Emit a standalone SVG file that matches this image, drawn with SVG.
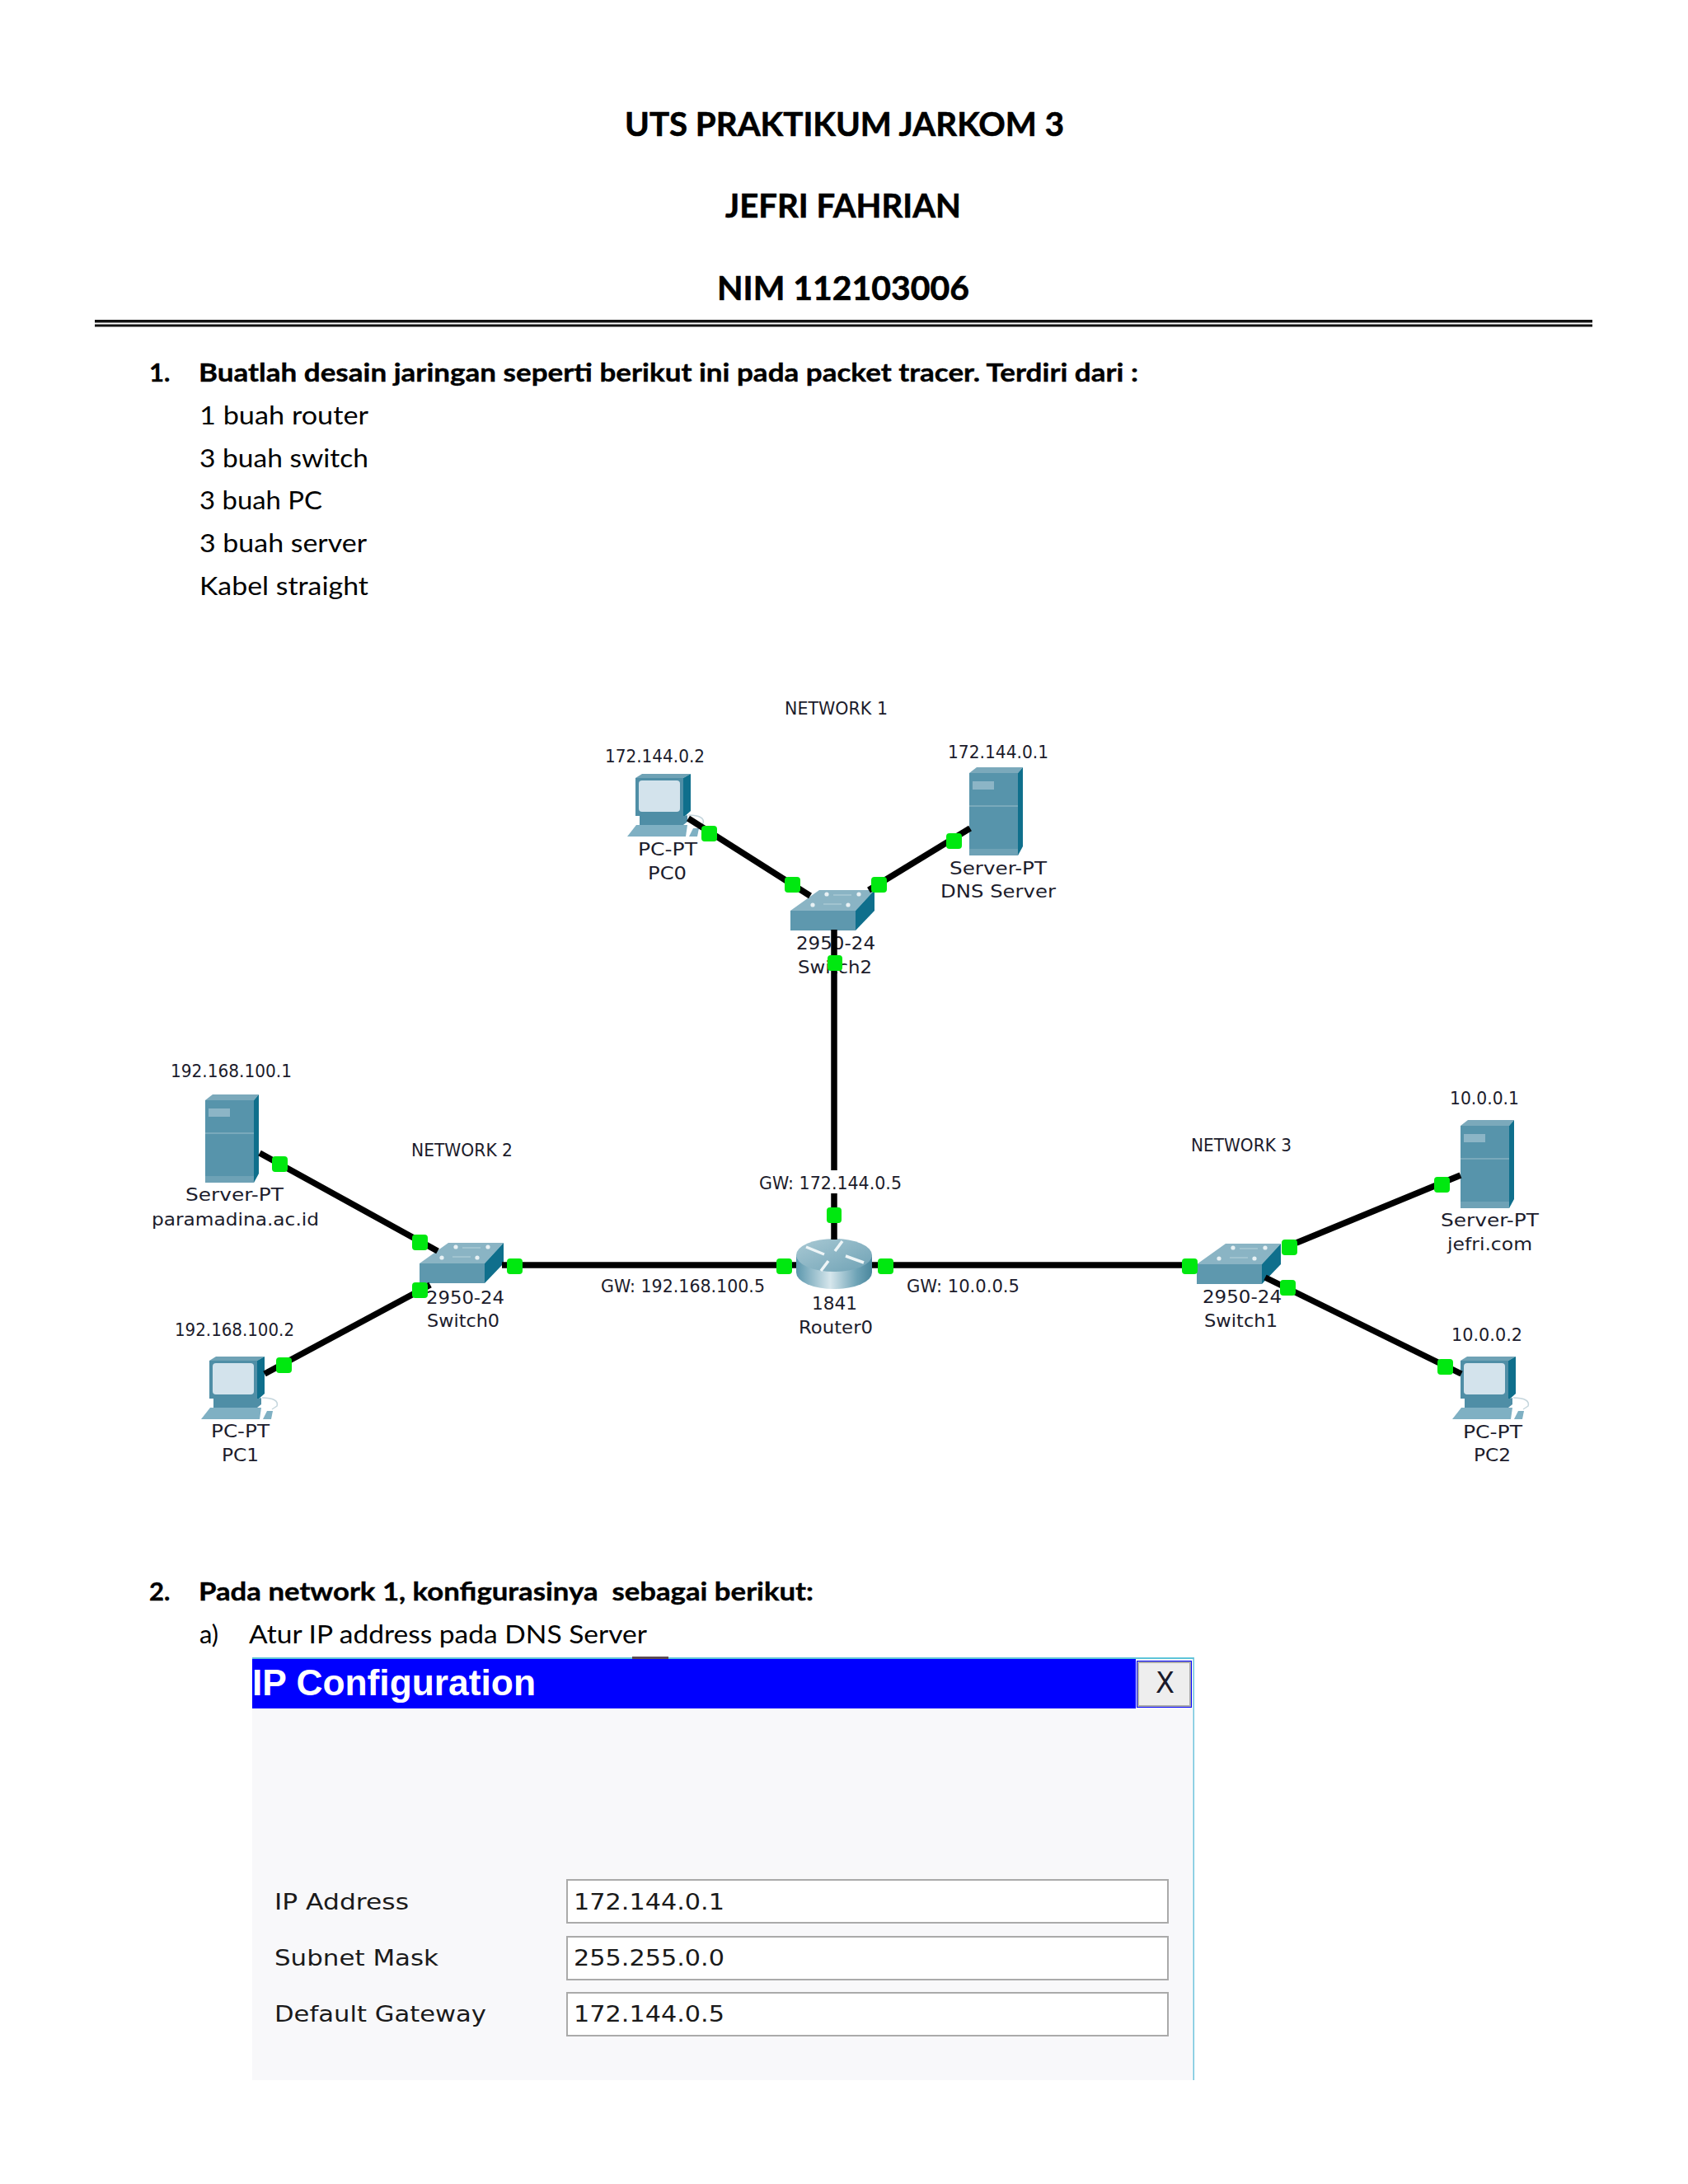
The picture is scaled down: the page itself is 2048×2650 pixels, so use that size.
<svg xmlns="http://www.w3.org/2000/svg" xmlns:xlink="http://www.w3.org/1999/xlink" width="2048" height="2650" viewBox="0 0 2048 2650">
<style>
text{white-space:pre}
.h{font-family:Lato,"Liberation Sans",sans-serif;font-weight:700;font-size:40px;fill:#000;stroke:#000;stroke-width:.6px}
.b{font-family:Lato,"Liberation Sans",sans-serif;font-size:31px;fill:#000}
.bb{font-family:Lato,"Liberation Sans",sans-serif;font-weight:700;font-size:31px;fill:#000;stroke:#000;stroke-width:.4px}
.l{font-family:"DejaVu Sans","Liberation Sans",sans-serif;font-size:22px;fill:#1c1c2c}
.f{font-family:"DejaVu Sans","Liberation Sans",sans-serif;font-size:27px;fill:#1a1a1a}
.t{font-family:"Liberation Sans",sans-serif;font-weight:700;font-size:44px;fill:#fff}
.link{stroke:#000;stroke-width:7.5;fill:none}
.port{fill:#00e810;stroke:#00e810;stroke-width:2}
.field{fill:#fff;stroke:#aaa;stroke-width:2}
</style>
<defs>
<linearGradient id="rb" x1="0" x2="1" y1="0" y2="0"><stop offset="0" stop-color="#5b97ad"/><stop offset=".45" stop-color="#d6e6ec"/><stop offset=".8" stop-color="#6ea3b6"/><stop offset="1" stop-color="#4a879d"/></linearGradient>
<linearGradient id="rt" x1="0" x2="1" y1="0" y2="1"><stop offset="0" stop-color="#a9c9d4"/><stop offset="1" stop-color="#6fa2b5"/></linearGradient>
<g id="server">
<polygon points="0,7 9,0 65,0 59,7" fill="#7ba9bb"/>
<polygon points="59,7 65,0 65,96 59,107" fill="#0f6f8c"/>
<rect x="0" y="7" width="59" height="100" fill="#5794ab"/>
<rect x="4" y="17" width="26" height="10" fill="#8cb5c6"/>
<rect x="0" y="46" width="59" height="2" fill="#79a9bb"/>
<rect x="0" y="99" width="59" height="8" fill="#6ea2b6"/>
</g>
<g id="pc">
<polygon points="0,5 8,0 67,0 58,5" fill="#6fa2b5"/>
<polygon points="58,5 67,0 67,45 58,53" fill="#0f6f8c"/>
<rect x="0" y="5" width="58" height="46" fill="#4f8ea6"/>
<rect x="4" y="8" width="50" height="38" rx="4" fill="#d3e3ec"/>
<polygon points="5,51 60,51 63,50 63,58 58,62 5,62" fill="#4f8ea6"/>
<polygon points="-10,76 1,62 63,62 61,76" fill="#7fb0c3"/>
<path d="M64,50 C78,50 84,54 82,60 L76,64" fill="none" stroke="#c5d6dd" stroke-width="1.5"/>
<polygon points="65,76 70,66 77,66 75,76" fill="#7fb0c3"/>
</g>
<g id="switch">
<polygon points="0,0 79,0 102,-25 35,-25" fill="#8ab4c4"/>
<rect x="0" y="0" width="79" height="24" fill="#5e98ae"/>
<polygon points="79,0 102,-25 102,0 79,24" fill="#0f6f8c"/>
<g fill="#e8f1f4"><circle cx="27" cy="-7" r="2.6"/><circle cx="70" cy="-7" r="2.6"/><circle cx="44" cy="-20" r="2.6"/><circle cx="83" cy="-20" r="2.6"/></g>
<path d="M40,-8 L62,-8 M52,-19 L74,-19" stroke="#a9c9d4" stroke-width="1.5"/>
</g>
</defs>
<rect width="2048" height="2650" fill="#fff"/>

<g id="header">
<text class="h" x="758" y="165" textLength="533" lengthAdjust="spacingAndGlyphs">UTS PRAKTIKUM JARKOM 3</text>
<text class="h" x="880" y="264" textLength="286" lengthAdjust="spacingAndGlyphs">JEFRI FAHRIAN</text>
<text class="h" x="870" y="364" textLength="306" lengthAdjust="spacingAndGlyphs">NIM 112103006</text>
<rect x="115" y="388" width="1817" height="3.5" fill="#111"/>
<rect x="115" y="393.5" width="1817" height="3" fill="#111"/>
</g>

<g id="question1">
<text class="bb" x="181" y="463">1.</text>
<text class="bb" x="241" y="463" textLength="1140" lengthAdjust="spacingAndGlyphs">Buatlah desain jaringan seperti berikut ini pada packet tracer. Terdiri dari :</text>
<text class="b" x="242" y="515" textLength="205" lengthAdjust="spacingAndGlyphs">1 buah router</text>
<text class="b" x="242" y="567" textLength="205" lengthAdjust="spacingAndGlyphs">3 buah switch</text>
<text class="b" x="242" y="618" textLength="149" lengthAdjust="spacingAndGlyphs">3 buah PC</text>
<text class="b" x="242" y="670" textLength="203" lengthAdjust="spacingAndGlyphs">3 buah server</text>
<text class="b" x="242" y="722" textLength="205" lengthAdjust="spacingAndGlyphs">Kabel straight</text>
</g>

<g id="PC0"><use href="#pc" x="771" y="939"/>
<text class="l" x="774" y="1038" textLength="72" lengthAdjust="spacingAndGlyphs">PC-PT</text>
<text class="l" x="786" y="1067" textLength="47" lengthAdjust="spacingAndGlyphs">PC0</text>
<text class="l" x="734" y="925" textLength="121" lengthAdjust="spacingAndGlyphs">172.144.0.2</text></g>
<g id="DNS-Server"><use href="#server" x="1176" y="931"/>
<text class="l" x="1152" y="1061" textLength="118" lengthAdjust="spacingAndGlyphs">Server-PT</text>
<text class="l" x="1141" y="1089" textLength="140" lengthAdjust="spacingAndGlyphs">DNS Server</text>
<text class="l" x="1150" y="920" textLength="122" lengthAdjust="spacingAndGlyphs">172.144.0.1</text></g>
<g id="Switch2"><use href="#switch" x="959" y="1105"/>
<text class="l" x="966" y="1152" textLength="96" lengthAdjust="spacingAndGlyphs">2950-24</text>
<text class="l" x="968" y="1181" textLength="90" lengthAdjust="spacingAndGlyphs">Switch2</text></g>
<g id="paramadina"><use href="#server" x="249" y="1328"/>
<text class="l" x="225" y="1457" textLength="119" lengthAdjust="spacingAndGlyphs">Server-PT</text>
<text class="l" x="184" y="1487" textLength="203" lengthAdjust="spacingAndGlyphs">paramadina.ac.id</text>
<text class="l" x="207" y="1307" textLength="147" lengthAdjust="spacingAndGlyphs">192.168.100.1</text></g>
<g id="PC1"><use href="#pc" x="254" y="1646"/>
<text class="l" x="256" y="1744" textLength="71" lengthAdjust="spacingAndGlyphs">PC-PT</text>
<text class="l" x="269" y="1773" textLength="45" lengthAdjust="spacingAndGlyphs">PC1</text>
<text class="l" x="212" y="1621" textLength="145" lengthAdjust="spacingAndGlyphs">192.168.100.2</text></g>
<g id="Switch0"><use href="#switch" x="509" y="1533"/>
<text class="l" x="517" y="1582" textLength="95" lengthAdjust="spacingAndGlyphs">2950-24</text>
<text class="l" x="518" y="1610" textLength="88" lengthAdjust="spacingAndGlyphs">Switch0</text></g>
<g id="Router0">
<rect x="966" y="1523" width="92" height="21" fill="url(#rb)"/>
<ellipse cx="1012" cy="1544" rx="46" ry="20" fill="url(#rb)"/>
<ellipse cx="1012" cy="1523" rx="46" ry="20" fill="url(#rt)"/>
<path d="M978,1513 L1000,1522 M1022,1506 L1013,1518 M1026,1524 L1048,1532 M1005,1530 L996,1542" stroke="#eef5f7" stroke-width="3.5" fill="none"/>
<text class="l" x="985" y="1589" textLength="55" lengthAdjust="spacingAndGlyphs">1841</text>
<text class="l" x="969" y="1618" textLength="90" lengthAdjust="spacingAndGlyphs">Router0</text></g>
<g id="Switch1"><use href="#switch" x="1452" y="1534"/>
<text class="l" x="1459" y="1581" textLength="96" lengthAdjust="spacingAndGlyphs">2950-24</text>
<text class="l" x="1461" y="1610" textLength="89" lengthAdjust="spacingAndGlyphs">Switch1</text></g>
<g id="jefri-com"><use href="#server" x="1772" y="1359"/>
<text class="l" x="1748" y="1488" textLength="119" lengthAdjust="spacingAndGlyphs">Server-PT</text>
<text class="l" x="1756" y="1517" textLength="103" lengthAdjust="spacingAndGlyphs">jefri.com</text>
<text class="l" x="1759" y="1340" textLength="84" lengthAdjust="spacingAndGlyphs">10.0.0.1</text></g>
<g id="PC2"><use href="#pc" x="1772" y="1646"/>
<text class="l" x="1775" y="1745" textLength="72" lengthAdjust="spacingAndGlyphs">PC-PT</text>
<text class="l" x="1788" y="1773" textLength="45" lengthAdjust="spacingAndGlyphs">PC2</text>
<text class="l" x="1761" y="1627" textLength="86" lengthAdjust="spacingAndGlyphs">10.0.0.2</text></g>

<g id="connectors">
<path class="link" d="M835,993 L983,1087"/>
<path class="link" d="M1177,1005 L1054,1080"/>
<path class="link" d="M1012,1128 V1420 M1012,1448 V1504"/>
<path class="link" d="M315,1399 L531,1518"/>
<path class="link" d="M522,1559 L321,1667"/>
<path class="link" d="M609,1535 H966 M1058,1535 H1452"/>
<path class="link" d="M1573,1508 L1772,1426"/>
<path class="link" d="M1535,1550 L1773,1667"/>
<g class="port">
<rect x="852" y="1003" width="17" height="17" rx="3"/>
<rect x="953" y="1065" width="17" height="17" rx="3"/>
<rect x="1149" y="1012" width="17" height="17" rx="3"/>
<rect x="1058" y="1065" width="17" height="17" rx="3"/>
<rect x="1005" y="1160" width="16" height="17" rx="3"/>
<rect x="1004" y="1466" width="16" height="17" rx="3"/>
<rect x="943" y="1528" width="17" height="17" rx="3"/>
<rect x="1066" y="1528" width="17" height="17" rx="3"/>
<rect x="1435" y="1528" width="17" height="17" rx="3"/>
<rect x="1556" y="1505" width="17" height="17" rx="3"/>
<rect x="1554" y="1554" width="17" height="17" rx="3"/>
<rect x="1741" y="1429" width="17" height="17" rx="3"/>
<rect x="1745" y="1650" width="17" height="17" rx="3"/>
<rect x="331" y="1404" width="17" height="17" rx="3"/>
<rect x="501" y="1499" width="17" height="17" rx="3"/>
<rect x="616" y="1528" width="17" height="17" rx="3"/>
<rect x="501" y="1557" width="17" height="17" rx="3"/>
<rect x="336" y="1648" width="17" height="17" rx="3"/>
</g>
</g>

<g id="annotations">
<text class="l" x="952" y="867" textLength="125" lengthAdjust="spacingAndGlyphs">NETWORK 1</text>
<text class="l" x="499" y="1403" textLength="123" lengthAdjust="spacingAndGlyphs">NETWORK 2</text>
<text class="l" x="1445" y="1397" textLength="122" lengthAdjust="spacingAndGlyphs">NETWORK 3</text>
<text class="l" x="921" y="1443" textLength="173" lengthAdjust="spacingAndGlyphs">GW: 172.144.0.5</text>
<text class="l" x="729" y="1568" textLength="199" lengthAdjust="spacingAndGlyphs">GW: 192.168.100.5</text>
<text class="l" x="1100" y="1568" textLength="137" lengthAdjust="spacingAndGlyphs">GW: 10.0.0.5</text>
</g>

<g id="question2">
<text class="bb" x="181" y="1942">2.</text>
<text class="bb" x="241" y="1942" textLength="746" lengthAdjust="spacingAndGlyphs">Pada network 1, konfigurasinya  sebagai berikut:</text>
<text class="b" x="242" y="1994">a)</text>
<text class="b" x="302" y="1994" textLength="483" lengthAdjust="spacingAndGlyphs">Atur IP address pada DNS Server</text>
</g>

<g id="ip-config">
<rect x="306" y="2013" width="1141" height="511" fill="#f8f8fa"/>
<rect x="306" y="2011" width="1143" height="2" fill="#5ec4d8"/>
<rect x="767" y="2010" width="44" height="3" fill="#5a4a50"/>
<rect x="1447.5" y="2011" width="1.5" height="513" fill="#6ec3dc"/>
<rect x="306" y="2013" width="1072" height="60" fill="#0000ff"/>
<text class="t" x="306" y="2057" textLength="344" lengthAdjust="spacingAndGlyphs">IP Configuration</text>
<rect x="1379" y="2015" width="67" height="57" fill="#0000ff"/>
<rect x="1381" y="2017" width="63" height="53" fill="#eeeeee" stroke="#aaa" stroke-width="2"/>
<text x="1402" y="2054" textLength="23" lengthAdjust="spacingAndGlyphs" style="font-family:'DejaVu Sans','Liberation Sans',sans-serif;font-size:35px;fill:#1a1a2a">X</text>
<rect class="field" x="688" y="2281" width="729" height="52"/>
<rect class="field" x="688" y="2350" width="729" height="52"/>
<rect class="field" x="688" y="2418" width="729" height="52"/>
<text class="f" x="333" y="2317" textLength="163" lengthAdjust="spacingAndGlyphs">IP Address</text>
<text class="f" x="333" y="2385" textLength="199" lengthAdjust="spacingAndGlyphs">Subnet Mask</text>
<text class="f" x="333" y="2453" textLength="257" lengthAdjust="spacingAndGlyphs">Default Gateway</text>
<text class="f" x="696" y="2317" textLength="183" lengthAdjust="spacingAndGlyphs">172.144.0.1</text>
<text class="f" x="696" y="2385" textLength="183" lengthAdjust="spacingAndGlyphs">255.255.0.0</text>
<text class="f" x="696" y="2453" textLength="183" lengthAdjust="spacingAndGlyphs">172.144.0.5</text>
</g>
</svg>
